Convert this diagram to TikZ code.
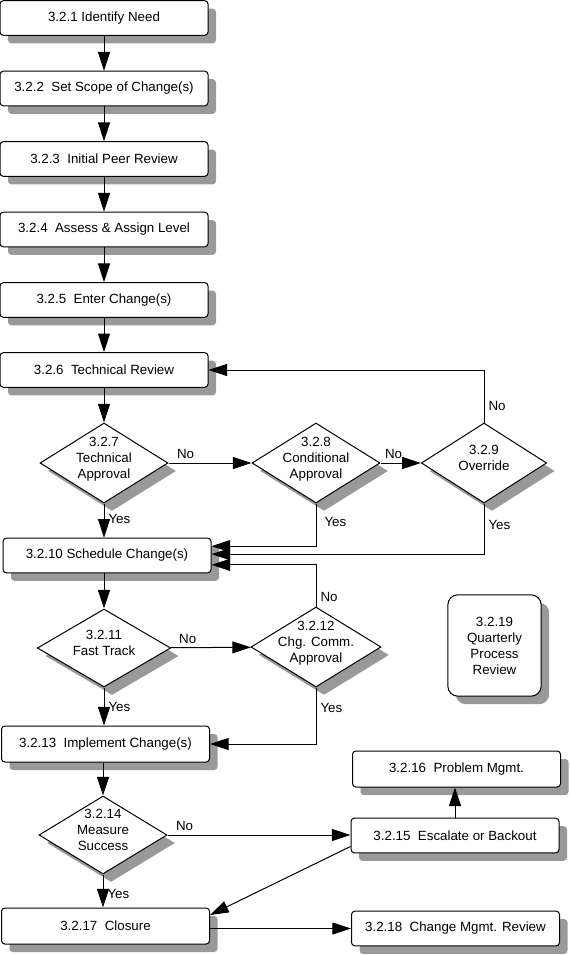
\documentclass[tikz,border=0pt]{standalone}
\usepackage{fontspec}
\setmainfont{Liberation Sans}
\usetikzlibrary{arrows.meta,shapes.geometric,shadows,positioning}
\newcommand{\dtext}[1]{\smash{\makebox[0pt]{\begin{tabular}{@{}c@{}}#1\end{tabular}}}}
\tikzset{
  boxshadow/.style={drop shadow={shadow xshift=6pt,shadow yshift=-6pt,fill=black!40,opacity=1}},
  box/.style={draw,fill=white,rounded corners=2.5pt,minimum width=156pt,minimum height=26pt,inner sep=0pt,boxshadow},
  dec/.style={draw,fill=white,diamond,minimum width=96pt,minimum height=60pt,inner sep=0pt,boxshadow},
  arr/.style={-{Triangle[length=14pt,width=9pt]}},
  lbl/.style={inner sep=3pt}
}
\begin{document}
\begin{tikzpicture}[x=0.75pt,y=-0.75pt,line width=0.75pt,font=\fontsize{10}{12}\selectfont]
  \useasboundingbox (0,0) rectangle (569,955);
  \node (b1) at (104,18) [box] {3.2.1 Identify Need}; \node (b2) at (104,88.5) [box] {3.2.2\ \ Set Scope of Change(s)};
  \node (b3) at (104,159) [box] {3.2.3\ \ Initial Peer Review}; \node (b4) at (104,229.5) [box] {3.2.4\ \ Assess \& Assign Level};
  \node (b5) at (104,300) [box] {3.2.5\ \ Enter Change(s)}; \node (b6) at (104,370) [box] {3.2.6\ \ Technical Review};
  \node (d7) at (104,463) [dec] {\dtext{3.2.7\\Technical\\Approval}}; \node (d8) at (316,463) [dec] {\dtext{3.2.8\\Conditional\\Approval}};
  \node (d9) at (484,463) [dec,minimum width=94pt] {\dtext{3.2.9\\Override}};
  \node (b10) at (107,555.5) [box] {3.2.10 Schedule Change(s)};
  \node (d11) at (104,648) [dec,minimum width=100pt,minimum height=58.5pt] {\dtext{3.2.11\\Fast Track}};
  \node (d12) at (316,647) [dec,minimum width=97.5pt] {\dtext{3.2.12\\Chg. Comm.\\Approval}};
  \node (b13) at (105.5,744) [box,minimum height=27pt] {3.2.13\ \ Implement Change(s)};
  \node (d14) at (103,835) [dec,minimum height=58.5pt] {\dtext{3.2.14\\Measure\\Success}};
  \node (b15) at (455,835.5) [box] {3.2.15\ \ Escalate or Backout}; \node (b16) at (456.5,769) [box,minimum height=27pt] {3.2.16\ \ Problem Mgmt.};
  \node (b17) at (105.5,926) [box,minimum height=27pt] {3.2.17\ \ Closure}; \node (b18) at (455.5,928.5) [box] {3.2.18\ \ Change Mgmt. Review};
  \node (b19) at (494.5,645.5) [box,rounded corners=7.5pt,minimum width=70pt,minimum height=76pt,align=center] {3.2.19\\Quarterly\\Process\\Review};
  \foreach \a/\b in {b1/b2,b2/b3,b3/b4,b4/b5,b5/b6,b6/d7} \draw[arr] (\a) -- (\b);
  \draw[arr] (d7) -- node[lbl,pos=0,above right,xshift=3pt] {No} (d8); \draw[arr] (d8) -- node[lbl,pos=0,above right] {No} (d9);
  \draw[arr] (d9.north) |- node[lbl,pos=0.16,right] {No} (b6.east);
  \draw[arr] (d7.south) -- node[lbl,pos=0.46,right] {Yes} (d7.south |- b10.north);
  \draw[arr] (d8.south) |- node[lbl,pos=0.22,right,xshift=3pt] {Yes} ([yshift=7pt]b10.east);
  \draw[arr] (d9.south) |- node[lbl,pos=0.21,right] {Yes} ([yshift=1pt]b10.east);
  \draw[arr] (b10.south -| d11) -- (d11); \draw[arr] (d11) -- node[lbl,pos=0,above right,xshift=3pt] {No} (d12);
  \draw[arr] (d12.north) |- node[lbl,pos=0.12,right] {No} ([yshift=-7pt]b10.east);
  \draw[arr] (d11.south) -- node[lbl,pos=0.51,right] {Yes} (d11.south |- b13.north);
  \draw[arr] (d12.south) |- node[lbl,pos=0.18,right] {Yes} (b13.east);
  \draw[arr] (b13.south -| d14) -- (d14); \draw[arr] (d14.east) -- node[lbl,pos=0,above right,xshift=3pt] {No} (d14.east -| b15.west);
  \draw[arr] (d14.south) -- node[lbl,pos=0.59,right] {Yes} (d14.south |- b17.north);
  \draw[arr] (b15.north -| b15) -- (b15 |- b16.south); \draw[arr] (b15.186) -- (b17.6);
  \draw[arr] (b18.west -| b17.east) -- (b18.west);
\end{tikzpicture}
\end{document}
